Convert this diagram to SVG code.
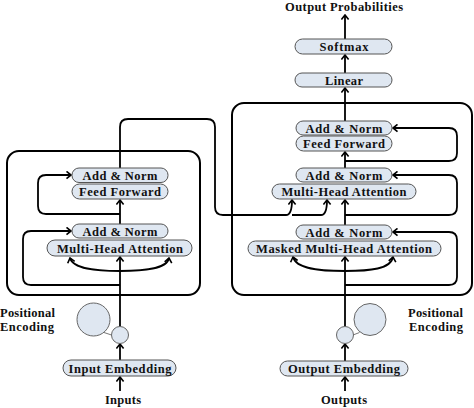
<svg xmlns="http://www.w3.org/2000/svg" width="474" height="408" viewBox="0 0 474 408">
<defs>
<marker id="arr" viewBox="0 0 10 10" refX="9" refY="5" markerWidth="9" markerHeight="9" markerUnits="userSpaceOnUse" orient="auto">
<path d="M4,1 L9,5 L4,9" fill="none" stroke="#000" stroke-width="1.8"/>
</marker>
<style>
.box{fill:none;stroke:#000;stroke-width:2}
.pill{fill:#dfe7f1;stroke:#555;stroke-width:1}
.circ{fill:#dfe7f1;stroke:#666;stroke-width:1}
.t{font-family:"Liberation Serif","Times New Roman",serif;font-weight:bold;font-size:12.5px;fill:#111;text-anchor:middle}
.tl{font-family:"Liberation Serif","Times New Roman",serif;font-weight:bold;font-size:12.5px;fill:#111}
.c{fill:none;stroke:#000;stroke-width:1.8}
.ca{fill:none;stroke:#000;stroke-width:1.8;marker-end:url(#arr)}
.thin{stroke:#777;stroke-width:1;fill:none}
</style>
</defs>
<rect x="0" y="0" width="474" height="408" fill="#fff"/>

<g id="encoder-box"><rect class="box" x="7" y="151" width="193" height="144" rx="12"/></g>
<g id="decoder-box"><rect class="box" x="232" y="103" width="240" height="192" rx="12"/></g>

<g id="connectors">
<path class="ca" d="M120,391 L120,377"/>
<path class="ca" d="M120,360 L120,344"/>
<path class="ca" d="M120,326.5 L120,257"/>
<path class="ca" d="M120,271 C96,271 73,269 70,258"/>
<path class="ca" d="M120,271 C144,271 167,269 169,258"/>
<path class="ca" d="M120,224 L120,200"/>
<path class="ca" d="M120,214 L46,214 Q38,214 38,206 L38,183 Q38,175 46,175 L71,175"/>
<path class="ca" d="M120,285 L31,285 Q23,285 23,277 L23,239 Q23,231 31,231 L71,231"/>
<path class="ca" d="M120,168 L120,127 Q120,119 128,119 L207,119 Q215,119 215,127 L215,207 Q215,215 223,215 L286,215 Q292,215 292,200"/>
<path class="ca" d="M292,215 L321,215 Q327,215 327,200"/>

<path class="ca" d="M345,391 L345,377"/>
<path class="ca" d="M345,361 L345,344"/>
<path class="ca" d="M345,326.5 L345,257"/>
<path class="ca" d="M345,271 C320,271 296,269 293,257"/>
<path class="ca" d="M345,271 C370,271 391,269 393,257"/>
<path class="ca" d="M345,225 L345,200"/>
<path class="ca" d="M345,168 L345,152"/>
<path class="ca" d="M345,121 L345,88"/>
<path class="ca" d="M345,73 L345,55"/>
<path class="ca" d="M345,39 L345,15"/>
<path class="ca" d="M345,161 L449,161 Q457,161 457,153 L457,136 Q457,128 449,128 L393,128"/>
<path class="ca" d="M345,215 L449,215 Q457,215 457,207 L457,183 Q457,175 449,175 L393,175"/>
<path class="ca" d="M345,285 L449,285 Q457,285 457,277 L457,240 Q457,232 449,232 L393,232"/>

<path class="thin" d="M104,332.5 L111.5,335"/>
<path class="thin" d="M353,335 L359.5,332.5"/>
</g>

<g id="enc-addnorm1"><rect class="pill" x="72" y="168" width="96" height="14.5" rx="7"/><text class="t" x="120" y="179.5" textLength="75">Add &amp; Norm</text></g>
<g id="enc-ff"><rect class="pill" x="72" y="184" width="96" height="15" rx="7.5"/><text class="t" x="120" y="196" textLength="82">Feed Forward</text></g>
<g id="enc-addnorm2"><rect class="pill" x="72" y="224" width="96" height="14" rx="7"/><text class="t" x="120" y="235.5" textLength="75">Add &amp; Norm</text></g>
<g id="enc-mha"><rect class="pill" x="47" y="240" width="145" height="16" rx="8"/><text class="t" x="120" y="252.5" textLength="126">Multi-Head Attention</text></g>
<g id="input-embedding"><rect class="pill" x="63" y="360" width="113" height="16" rx="8"/><text class="t" x="120" y="372.5" textLength="103">Input Embedding</text></g>
<g id="inputs"><text class="t" x="123" y="404" textLength="36">Inputs</text></g>
<g id="enc-pe"><circle class="circ" cx="93.5" cy="319.5" r="16.5"/><circle class="circ" cx="120" cy="335" r="8.5"/>
<text class="tl" x="0" y="316.5" textLength="55">Positional</text><text class="tl" x="0" y="331" textLength="54">Encoding</text></g>

<g id="output-probabilities"><text class="t" x="344" y="10.5" textLength="118">Output Probabilities</text></g>
<g id="softmax"><rect class="pill" x="295" y="39" width="97" height="15" rx="7.5"/><text class="t" x="344" y="51" textLength="49">Softmax</text></g>
<g id="linear"><rect class="pill" x="295" y="73" width="97" height="14" rx="7"/><text class="t" x="344" y="84.5" textLength="38">Linear</text></g>
<g id="dec-addnorm1"><rect class="pill" x="296" y="121" width="96" height="14" rx="7"/><text class="t" x="344" y="132.5" textLength="77">Add &amp; Norm</text></g>
<g id="dec-ff"><rect class="pill" x="296" y="136" width="96" height="15" rx="7.5"/><text class="t" x="344" y="148" textLength="82">Feed Forward</text></g>
<g id="dec-addnorm2"><rect class="pill" x="296" y="168" width="96" height="14" rx="7"/><text class="t" x="344" y="179.5" textLength="77">Add &amp; Norm</text></g>
<g id="dec-mha"><rect class="pill" x="272" y="184" width="144" height="15" rx="7.5"/><text class="t" x="344" y="196" textLength="125">Multi-Head Attention</text></g>
<g id="dec-addnorm3"><rect class="pill" x="296" y="225" width="96" height="14" rx="7"/><text class="t" x="344" y="236.5" textLength="77">Add &amp; Norm</text></g>
<g id="dec-mmha"><rect class="pill" x="248" y="241" width="193" height="15" rx="7.5"/><text class="t" x="344" y="253" textLength="176">Masked Multi-Head Attention</text></g>
<g id="output-embedding"><rect class="pill" x="280" y="361" width="128" height="15" rx="7.5"/><text class="t" x="344" y="373" textLength="112">Output Embedding</text></g>
<g id="outputs"><text class="t" x="344" y="404" textLength="46">Outputs</text></g>
<g id="dec-pe"><circle class="circ" cx="370" cy="319.5" r="16"/><circle class="circ" cx="345" cy="335" r="8.5"/>
<text class="tl" x="408" y="316.5" textLength="55">Positional</text><text class="tl" x="409" y="331" textLength="54">Encoding</text></g>
</svg>
